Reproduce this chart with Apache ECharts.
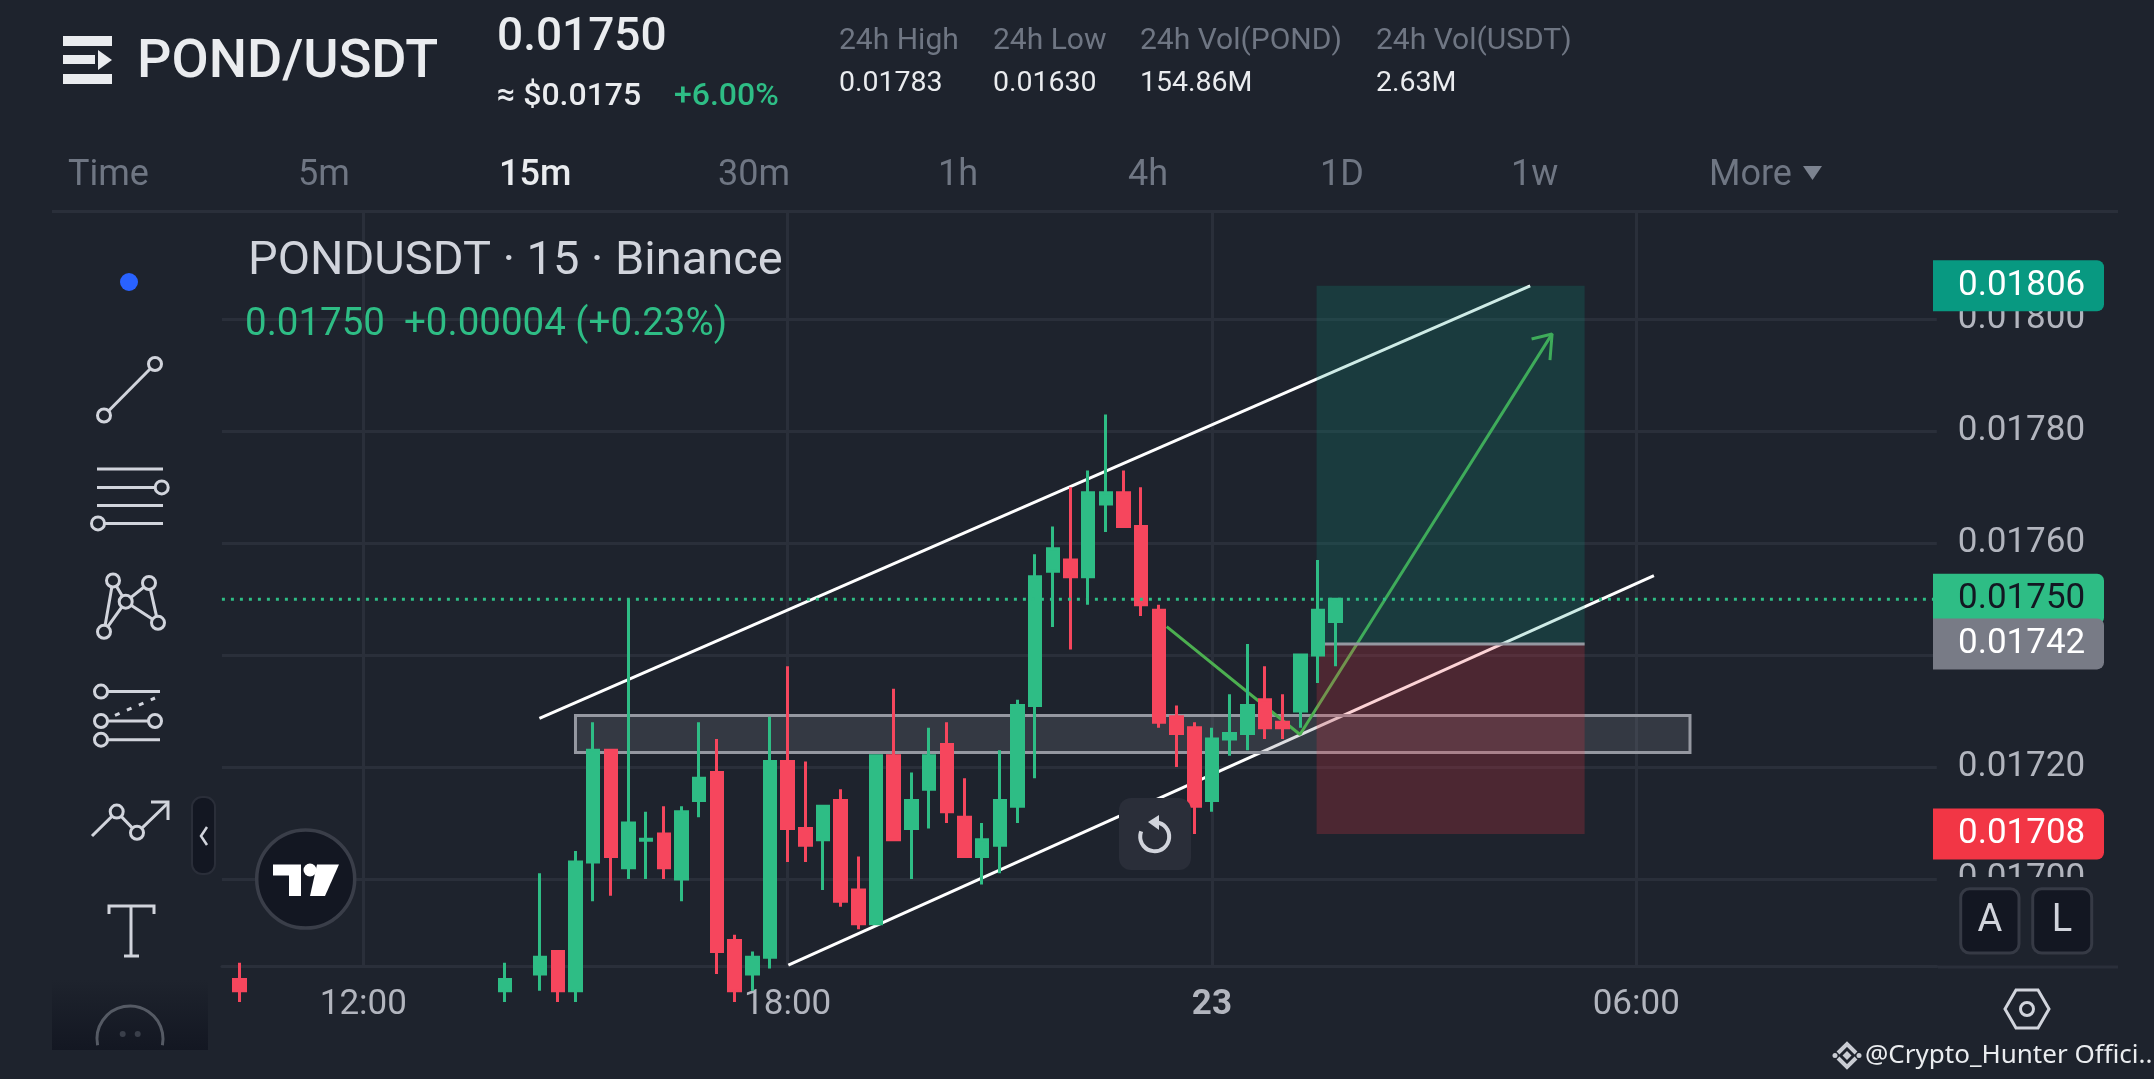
<!DOCTYPE html>
<html>
<head>
<meta charset="utf-8">
<title>POND/USDT</title>
<script src="https://cdn.jsdelivr.net/npm/echarts@6/dist/echarts.min.js"></script>
<style>
  html, body { margin: 0; padding: 0; background: #1e232d; }
  #main { width: 2154px; height: 1079px; }
</style>
</head>
<body>
<div id="main"></div>
<script>
// candles, x is hours since 00:00 of the day before "23"
var candleHours = [10, 10.25, 14, 14.5, 14.75, 15, 15.25, 15.5, 15.75, 16, 16.25, 16.5, 16.75, 17, 17.25, 17.5, 17.75, 18, 18.25, 18.5, 18.75, 19, 19.25, 19.5, 19.75, 20, 20.25, 20.5, 20.75, 21, 21.25, 21.5, 21.75, 22, 22.25, 22.5, 22.75, 23, 23.25, 23.5, 23.75, 24, 24.25, 24.5, 24.75, 25, 25.25, 25.5, 25.75];
var opens  = [.01680, .01682, .01680, .01683, .01687, .01680, .01703, .01723, .01702, .017069, .01708, .01700, .01714, .01719, .01689, .01683, .01686, .01721, .01709, .01707, .01714, .01698, .01692, .01722, .01709, .01716, .01724, .01711, .01704, .01706, .01713, .01731, .01755, .01757, .01754, .01767, .01769, .01763, .01748, .01729, .01727, .01714, .01725, .01726, .01732, .01728, .01730, .01740, .01746];
var closes = [.01681, .01680, .01682, .01686, .01680, .01703, .01723, .01704, .01710, .017071, .01702, .01712, .01718, .01687, .01680, .01686, .01721, .01709, .01706, .01713, .01696, .01692, .01722, .01707, .01714, .01722, .01712, .01704, .01707, .01714, .01731, .01754, .01759, .01754, .01769, .01769, .01763, .01749, .01728, .01726, .01713, .01725, .01726, .01731, .01727, .01727, .01740, .01748, .01750];
var lows   = [.01678, .01678, .01678, .01680, .01678, .01678, .01696, .01697, .01700, .01700, .01700, .01696, .01711, .01683, .01678, .01680, .01684, .01703, .01703, .01698, .01695, .01691, .01692, .01707, .01700, .01709, .01710, .01704, .01699, .01701, .01710, .01718, .01745, .01741, .01749, .01762, .01763, .01747, .01727, .01720, .01708, .01712, .01722, .01723, .01725, .01725, .01727, .01735, .01738];
var highs  = [.01685, .01685, .01685, .01701, .01687, .01705, .01728, .01723, .01750, .01712, .01713, .01713, .01728, .01725, .01690, .01687, .01729, .01738, .01721, .01713, .01716, .01704, .01722, .01734, .01719, .01727, .01728, .01718, .01710, .01723, .01732, .01758, .01763, .01770, .01773, .01783, .01773, .01770, .01749, .01731, .01728, .01727, .01733, .01742, .01738, .01733, .01740, .01757, .01750];

var priceTicks = [0.017, 0.0172, 0.0174, 0.0176, 0.0178, 0.018];
var timeTicks = [12, 18, 24, 30];
var timeLabels = ['12:00', '18:00', '23', '06:00'];
var lastPrice = 0.0175;

// drawings on the chart, [hour, price]
var channelUpper = [[14.49, 0.017287], [28.5, 0.01806]];
var channelLower = [[18.01, 0.016846], [30.25, 0.017542]];
var zigzag = [[23.36, 0.017451], [25.245, 0.017258], [28.81, 0.017974]];
var arrowHead = [[28.52, 0.017965], [28.81, 0.017974], [28.78, 0.017927]];
var zoneHours = [15, 30.76];
var zonePrices = [0.017292, 0.017226];
var positionHours = [25.48, 29.27];
var targetPrice = 0.01806;
var entryPrice = 0.01742;
var stopPrice = 0.01708;

var tagValues = [0.01806, 0.0175, 0.01742, 0.01708];
var tagFills = ['#089981', '#2ebd85', '#787b86', '#f23645'];
var tagTexts = ['#ffffff', '#131722', '#ffffff', '#ffffff'];

var headerStats = [
  ['24h High', '0.01783', 839],
  ['24h Low', '0.01630', 993],
  ['24h Vol(POND)', '154.86M', 1140],
  ['24h Vol(USDT)', '2.63M', 1376]
];
var intervalTabs = [['Time', 68], ['5m', 298], ['15m', 499], ['30m', 718], ['1h', 938], ['4h', 1128], ['1D', 1320], ['1w', 1511], ['More', 1709]];

var BG = '#1e232d', GRID = '#2a2f3a', ICON = '#d1d4dc', UP = '#2ebd85', DOWN = '#f6465d';
var FONT = 'Roboto, sans-serif';

function rows() {
  return candleHours.map(function (h, i) {
    return [h, opens[i], closes[i], lows[i], highs[i]];
  });
}

function lineSeries(name, data, color, width, z) {
  return {
    name: name, type: 'line', data: data, z: z, showSymbol: false, symbol: 'none',
    lineStyle: { color: color, width: width }, silent: true
  };
}

var chart = echarts.init(document.getElementById('main'));

var option = {
  animation: false,
  backgroundColor: BG,
  grid: { left: 221.9, right: 2154 - 1936.8, top: 211, bottom: 1079 - 966, containLabel: false },
  xAxis: {
    type: 'value', min: 10, max: 34.25,
    axisLine: { show: true, onZero: false, lineStyle: { color: GRID, width: 3 } },
    axisTick: { show: false, customValues: timeTicks },
    axisLabel: {
      customValues: timeTicks, margin: 22, color: '#b2b5be', fontFamily: FONT, fontSize: 35,
      formatter: function (v) {
        var s = timeLabels[timeTicks.indexOf(v)];
        return s === '23' ? '{b|23}' : s;
      },
      rich: { b: { fontWeight: 700, fontSize: 35, fontFamily: FONT, color: '#b2b5be' } }
    },
    splitLine: { show: true, lineStyle: { color: GRID, width: 3 } }
  },
  yAxis: {
    type: 'value', position: 'right', min: 0.0168443, max: 0.0181937,
    axisLine: { show: false },
    axisTick: { show: false, customValues: priceTicks },
    axisLabel: {
      customValues: priceTicks, margin: 21, color: '#b2b5be', fontFamily: FONT, fontSize: 35,
      formatter: function (v) { return v.toFixed(5); }
    },
    splitLine: { show: true, lineStyle: { color: GRID, width: 3 } }
  },
  series: [
    lineSeries('channel upper', channelUpper, '#ffffff', 3, 1),
    lineSeries('channel lower', channelLower, '#ffffff', 3, 1),
    lineSeries('zigzag', zigzag, '#4caf50', 3, 2),
    lineSeries('arrow head', arrowHead, '#4caf50', 3, 2),
    {
      name: 'zone', type: 'line', data: [], silent: true,
      markArea: {
        z: 2, silent: true,
        itemStyle: { color: 'rgba(120,123,134,0.25)', borderColor: '#9598a1', borderWidth: 3 },
        data: [[{ coord: [zoneHours[0], zonePrices[0]] }, { coord: [zoneHours[1], zonePrices[1]] }]]
      }
    },
    {
      name: 'position', type: 'line', data: [], silent: true,
      markArea: {
        z: 3, silent: true,
        data: [
          [{ coord: [positionHours[0], targetPrice], itemStyle: { color: 'rgba(8,153,129,0.2)' } }, { coord: [positionHours[1], entryPrice] }],
          [{ coord: [positionHours[0], entryPrice], itemStyle: { color: 'rgba(242,54,69,0.22)' } }, { coord: [positionHours[1], stopPrice] }]
        ]
      }
    },
    lineSeries('entry', [[positionHours[0], entryPrice], [positionHours[1], entryPrice]], '#9598a1', 3, 3),
    {
      name: 'POND/USDT', type: 'candlestick', data: rows(), z: 4, barWidth: 12,
      itemStyle: { color: UP, color0: DOWN, borderColor: UP, borderColor0: DOWN, borderWidth: 3 }
    },
    {
      name: 'last', type: 'line', z: 5, showSymbol: false, symbol: 'none', silent: true,
      data: [[10, lastPrice], [34.25, lastPrice]],
      lineStyle: { color: UP, width: 3, type: [3, 6] }
    }
  ]
};
chart.setOption(option);

// ui around the chart, drawn on top in pixels
var els = [];
function add(o) { o.z = 100; els.push(o); return o; }
function txt(x, y, s, size, fill, weight, align, family) {
  add({
    type: 'text', style: {
      text: s, x: x, y: y, fill: fill, font: (weight || 400) + ' ' + size + 'px ' + (family || FONT),
      align: align || 'left', verticalAlign: 'middle', textAlign: align || 'left', textVerticalAlign: 'middle'
    }
  });
}
function rect(x, y, w, h, fill, r, stroke, lw) {
  add({ type: 'rect', shape: { x: x, y: y, width: w, height: h, r: r || 0 }, style: { fill: fill, stroke: stroke || null, lineWidth: lw || 0 } });
}
function pl(points, color, lw) {
  add({ type: 'polyline', shape: { points: points }, style: { stroke: color || ICON, lineWidth: lw || 3, fill: null } });
}
function pg(points, fill) {
  add({ type: 'polygon', shape: { points: points }, style: { fill: fill } });
}
function dot(x, y, r, fill, stroke, lw) {
  add({ type: 'circle', shape: { cx: x, cy: y, r: r }, style: { fill: fill, stroke: stroke || null, lineWidth: lw || 0 } });
}
function node(x, y) { dot(x, y, 6.5, BG, ICON, 3); }

// header
rect(63, 36, 49, 10, '#eaecef');
rect(63, 55, 32, 9, '#eaecef');
rect(63, 74, 49, 10, '#eaecef');
pg([[98, 50], [112, 60], [98, 70]], '#eaecef');
txt(137, 63, 'POND/USDT', 54, '#eaecef', 500);
txt(497, 38, '0.01750', 46, '#eaecef', 500);
txt(497, 97, '\u2248 $0.0175', 32, '#eaecef', 500);
txt(674, 97, '+6.00%', 32, UP, 500);
headerStats.forEach(function (s) {
  txt(s[2], 41, s[0], 30, '#6f7683');
  txt(s[2], 84, s[1], 28.5, '#eaecef');
});
intervalTabs.forEach(function (t) {
  txt(t[1], 176, t[0], 36, t[0] === '15m' ? '#eaecef' : '#6f7683', t[0] === '15m' ? 500 : 400);
});
pg([[1803, 166], [1822, 166], [1812.5, 180]], '#7c8390');
rect(52, 210, 2066, 3, GRID);

// legend text
txt(248, 262, 'PONDUSDT \u00b7 15 \u00b7 Binance', 47, '#d1d4dc');
txt(245, 325, '0.01750', 38.5, UP);
txt(404, 325, '+0.00004 (+0.23%)', 38.5, UP);
dot(129, 282, 9, '#2962ff');

// drawing toolbar
pl([[104, 415.5], [155, 364]]); node(104, 415.5); node(155, 364);
pl([[97, 469], [163, 469]]); pl([[97, 487.4], [162, 487.4]]); pl([[97, 505.4], [163, 505.4]]); pl([[98, 523.4], [163, 523.4]]);
node(161.7, 487.4); node(98, 523.4);
pl([[104, 631.8], [113, 580.5], [125.7, 601.7], [104, 631.8]]);
pl([[125.7, 601.7], [149, 583], [158, 622.8], [125.7, 601.7]]);
node(113, 580.5); node(149, 583); node(125.7, 601.7); node(104, 631.8); node(158, 622.8);
pl([[101, 691.6], [160, 691.6]]); pl([[101, 721], [155, 721]]); pl([[101, 739.7], [160, 739.7]]);
add({ type: 'line', shape: { x1: 115, y1: 715.4, x2: 155, y2: 698 }, style: { stroke: ICON, lineWidth: 3, lineDash: [5, 8] } });
node(101, 691.6); node(101, 721); node(155, 721); node(101, 739.7);
pl([[92, 836], [116.7, 811.6], [137, 832.8], [168, 803]]);
pl([[151, 802], [168, 802], [168, 820]]);
node(116.7, 811.6); node(137, 832.8);
pl([[109, 914], [109, 906], [154, 906], [154, 914]]); pl([[131, 906], [131, 956]]); pl([[124, 956], [139, 956]]);

add({
  type: 'rect', shape: { x: 52, y: 980, width: 156, height: 70 },
  style: { fill: new echarts.graphic.LinearGradient(0, 0, 0, 1, [{ offset: 0, color: BG }, { offset: 1, color: '#131722' }]) }
});
add({ type: 'arc', shape: { cx: 130, cy: 1039, r: 33, startAngle: Math.PI * 0.94, endAngle: Math.PI * 2.06 }, style: { stroke: '#555a64', lineWidth: 3, fill: null } });
dot(122.7, 1034, 3, '#3a3f4a'); dot(137.7, 1034, 3, '#3a3f4a');

rect(192, 797, 23, 77, '#131722', 10, '#2a2e39', 2);
pl([[207, 827], [201, 836], [207, 845]], ICON, 2.5);

// tv logo
dot(305.7, 879, 49, '#131722', '#3a3e49', 3.5);
pg([[273, 864.5], [301, 864.5], [301, 896], [289, 896], [289, 875.6], [273, 875.6]], '#ffffff');
dot(310, 870, 6.5, '#ffffff');
pg([[317, 864.5], [339, 864.5], [325, 896], [310, 896]], '#ffffff');

// reset button
rect(1119, 798, 72, 72, '#2a2e39', 12);
add({ type: 'arc', shape: { cx: 1154.7, cy: 836.7, r: 14.5, startAngle: -Math.PI / 2 + 0.1, endAngle: Math.PI * 1.12, clockwise: true }, style: { stroke: ICON, lineWidth: 4, fill: null } });
pg([[1148, 822], [1159, 815], [1159, 830]], ICON);

// covers the cut 0.01700 label, then the price controls
rect(1938, 877, 216, 86, BG);
rect(1960.7, 888.7, 58.3, 64.3, '#131722', 9, '#363a45', 3);
rect(2032.7, 888.7, 59, 64.3, '#131722', 9, '#363a45', 3);
txt(1990, 921, 'A', 38, ICON, 400, 'center');
txt(2062, 921, 'L', 38, ICON, 400, 'center');
rect(1938, 965.5, 180, 3, GRID);

// settings hexagon
add({ type: 'polygon', shape: { points: [[2005, 1009], [2016, 990], [2038, 990], [2049, 1009], [2038, 1028], [2016, 1028]] }, style: { fill: null, stroke: ICON, lineWidth: 3 } });
dot(2027, 1009, 6.5, null, ICON, 3);

// watermark
pl([[1838, 1053], [1847, 1044], [1856, 1053]], '#c9ccd3', 4);
pl([[1838, 1058], [1847, 1067], [1856, 1058]], '#c9ccd3', 4);
pg([[1847, 1051], [1851.5, 1055.5], [1847, 1060], [1842.5, 1055.5]], '#c9ccd3');
dot(1835, 1055.5, 2.5, '#c9ccd3'); dot(1859, 1055.5, 2.5, '#c9ccd3');
txt(1865, 1056, '@Crypto_Hunter Offici...', 26, '#eaecef', 400, 'left', '"Noto Sans", sans-serif');

// price tags sit on their values
tagValues.forEach(function (v, i) {
  var y = chart.convertToPixel({ yAxisIndex: 0 }, v);
  rect(1933, y - 25.5, 171, 51, tagFills[i], [0, 7, 7, 0]);
  txt(1958, y, v.toFixed(5), 35, tagTexts[i]);
});

chart.setOption({ graphic: { elements: els } });
</script>
</body>
</html>
